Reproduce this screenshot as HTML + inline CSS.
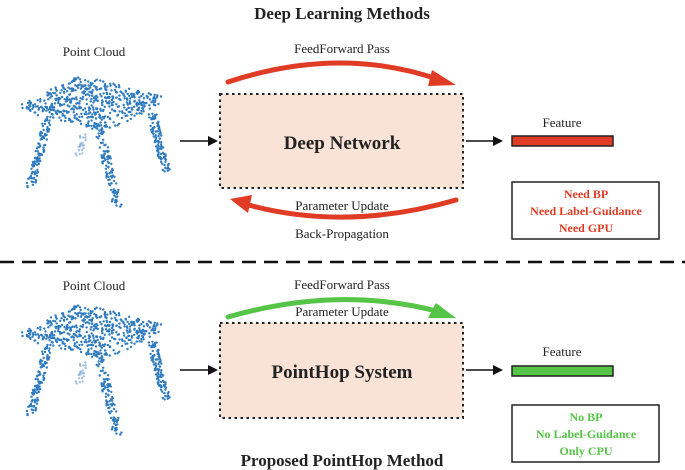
<!DOCTYPE html>
<html><head><meta charset="utf-8"><style>
html,body{margin:0;padding:0;background:#fff;}
svg{display:block;font-family:"Liberation Serif",serif;}
</style></head><body>
<svg id="s" width="685" height="470" viewBox="0 0 685 470" xmlns="http://www.w3.org/2000/svg">
<defs>
<marker id="ar" markerWidth="10" markerHeight="10" refX="3" refY="5" orient="auto" markerUnits="userSpaceOnUse"><path d="M0,0 L10,5 L0,10 z" fill="#111"/></marker>
</defs>
<text x="342" y="19" text-anchor="middle" font-weight="bold" font-size="17" fill="#222">Deep Learning Methods</text>
<text x="342" y="466" text-anchor="middle" font-weight="bold" font-size="17" fill="#222">Proposed PointHop Method</text>
<line x1="0" y1="262" x2="685" y2="262" stroke="#111" stroke-width="2.5" stroke-dasharray="14,8"/>

<!-- top -->
<text x="94" y="56" text-anchor="middle" font-size="13" fill="#222">Point Cloud</text>
<text x="342" y="53" text-anchor="middle" font-size="13" fill="#222">FeedForward Pass</text>
<path d="M228,82 Q340,45 440,80" fill="none" stroke="#e03c25" stroke-width="5" stroke-linecap="round"/>
<path d="M432,70 L456,85 L428,86 z" fill="#e03c25"/>
<rect x="220" y="94" width="243" height="94" fill="#f8e3d6" stroke="#222" stroke-width="2" stroke-dasharray="2.5,3.5"/>
<text x="342" y="149" text-anchor="middle" font-weight="bold" font-size="19" fill="#222">Deep Network</text>
<path d="M456,200 Q345,232 245,204" fill="none" stroke="#e03c25" stroke-width="5" stroke-linecap="round"/>
<path d="M252,195 L230,199 L248,213 z" fill="#e03c25"/>
<text x="342" y="210" text-anchor="middle" font-size="13" fill="#222">Parameter Update</text>
<text x="342" y="238" text-anchor="middle" font-size="13" fill="#222">Back-Propagation</text>
<line x1="180" y1="141" x2="211" y2="141" stroke="#111" stroke-width="1.5" marker-end="url(#ar)"/>
<line x1="466" y1="141" x2="496" y2="141" stroke="#111" stroke-width="1.5" marker-end="url(#ar)"/>
<text x="562" y="127" text-anchor="middle" font-size="13" fill="#222">Feature</text>
<rect x="512" y="136" width="101" height="10" fill="#e03c25" stroke="#222" stroke-width="1.5"/>
<rect x="512" y="182" width="147" height="57" fill="#fff" stroke="#222" stroke-width="1.5"/>
<text x="586" y="198" text-anchor="middle" font-weight="bold" font-size="12" fill="#e03c25">Need BP</text>
<text x="586" y="215" text-anchor="middle" font-weight="bold" font-size="12" fill="#e03c25">Need Label-Guidance</text>
<text x="586" y="232" text-anchor="middle" font-weight="bold" font-size="12" fill="#e03c25">Need GPU</text>

<!-- bottom -->
<text x="94" y="290" text-anchor="middle" font-size="13" fill="#222">Point Cloud</text>
<text x="342" y="289" text-anchor="middle" font-size="13" fill="#222">FeedForward Pass</text>
<path d="M228,317 Q340,285 440,312" fill="none" stroke="#55c447" stroke-width="5" stroke-linecap="round"/>
<path d="M436,303 L456,318 L428,318 z" fill="#55c447"/>
<text x="342" y="316" text-anchor="middle" font-size="13" fill="#222">Parameter Update</text>
<rect x="220" y="323" width="243" height="95" fill="#f8e3d6" stroke="#222" stroke-width="2" stroke-dasharray="2.5,3.5"/>
<text x="342" y="378" text-anchor="middle" font-weight="bold" font-size="19" fill="#222">PointHop System</text>
<line x1="180" y1="370" x2="211" y2="370" stroke="#111" stroke-width="1.5" marker-end="url(#ar)"/>
<line x1="466" y1="370" x2="496" y2="370" stroke="#111" stroke-width="1.5" marker-end="url(#ar)"/>
<text x="562" y="356" text-anchor="middle" font-size="13" fill="#222">Feature</text>
<rect x="512" y="366" width="101" height="10" fill="#55c447" stroke="#222" stroke-width="1.5"/>
<rect x="512" y="405" width="147" height="57" fill="#fff" stroke="#222" stroke-width="1.5"/>
<text x="586" y="421" text-anchor="middle" font-weight="bold" font-size="12" fill="#55c447">No BP</text>
<text x="586" y="438" text-anchor="middle" font-weight="bold" font-size="12" fill="#55c447">No Label-Guidance</text>
<text x="586" y="455" text-anchor="middle" font-weight="bold" font-size="12" fill="#55c447">Only CPU</text>
<g id="pc1"></g><g id="pc2"></g>
</svg>
<script>
(function(){
var seed=7;function r(){seed=(seed*16807)%2147483647;return (seed-1)/2147483646;}
function gen(dy){
 var out=[];
 var A=[17,108],B=[75,77],C=[172,97],D=[105,132];
 for(var i=0;i<520;i++){var u=r(),v=r();
  var x=A[0]*(1-u)*(1-v)+B[0]*u*(1-v)+C[0]*u*v+D[0]*(1-u)*v;
  var y=A[1]*(1-u)*(1-v)+B[1]*u*(1-v)+C[1]*u*v+D[1]*(1-u)*v;
  out.push([x+(r()-0.5)*4,y+(r()-0.5)*5,1]);}
 var legs=[[[48,118],[30,187]],[[98,125],[118,207]],[[152,115],[166,172]],[[82,135],[79,157]]];
 legs.forEach(function(l,k){var n=k==3?20:110;for(var i=0;i<n;i++){var t=r();
  out.push([l[0][0]+(l[1][0]-l[0][0])*t+(r()-0.5)*9,l[0][1]+(l[1][1]-l[0][1])*t+(r()-0.5)*4,k==3?0.45:1]);}});
 return out.map(function(p){return '<circle cx="'+p[0].toFixed(1)+'" cy="'+(p[1]+dy).toFixed(1)+'" r="1.2" fill="#2f7bbf" fill-opacity="'+p[2]+'"/>';}).join('');
}
document.getElementById('pc1').innerHTML=gen(0);
seed=7;
document.getElementById('pc2').innerHTML=gen(228);
})();
</script>
</body></html>
